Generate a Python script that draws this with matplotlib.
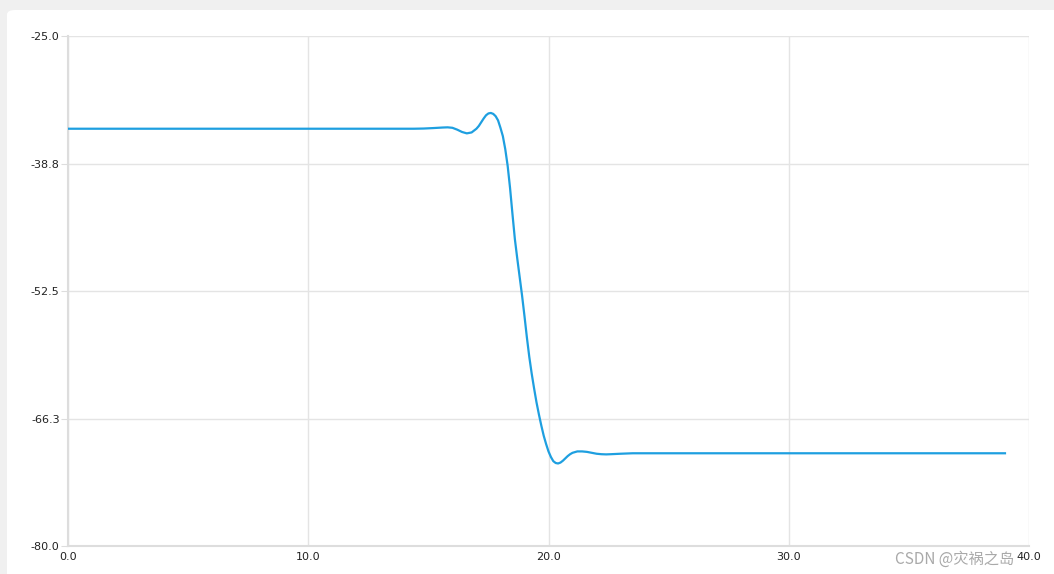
import matplotlib
matplotlib.use('Agg')
import matplotlib.pyplot as plt
from matplotlib.patches import FancyBboxPatch

plt.rcParams['axes.unicode_minus'] = False

# curve (x, dB-ish value)
x_vals = [0.0, 14.0, 14.4, 14.8, 15.2, 15.6, 15.8, 16.0, 16.2, 16.4, 16.6, 16.8,
          17.0, 17.1, 17.2, 17.3, 17.4, 17.5, 17.6, 17.7, 17.8, 17.9, 18.0, 18.1,
          18.2, 18.3, 18.4, 18.5, 18.6,
          18.7, 18.8, 18.9, 19.0, 19.1, 19.2, 19.3, 19.4, 19.5, 19.6, 19.7, 19.8,
          19.9, 20.0, 20.1, 20.2, 20.3, 20.4, 20.5, 20.6, 20.7, 20.8, 20.9, 21.0,
          21.2, 21.4, 21.6, 21.8, 22.0, 22.2, 22.4, 22.6, 23.0, 23.5, 24.0, 39.0]
y_vals = [-35.0, -35.0, -35.0, -34.98, -34.93, -34.87, -34.85, -34.9, -35.1, -35.35, -35.5, -35.4,
          -35.0, -34.7, -34.3, -33.9, -33.55, -33.35, -33.3, -33.4, -33.65, -34.1, -34.9, -35.8,
          -37.2, -39.0, -41.4, -44.2, -46.9,
          -49.0, -51.0, -53.0, -55.2, -57.5, -59.6, -61.4, -63.0, -64.5, -65.8, -67.0, -68.1,
          -69.0, -69.8, -70.4, -70.85, -71.05, -71.1, -71.0, -70.8, -70.55, -70.3, -70.1, -69.95,
          -69.8, -69.8, -69.85, -69.95, -70.05, -70.1, -70.12, -70.1, -70.05, -70.0, -70.0, -70.0]

x_ticks = [0.0, 10.0, 20.0, 30.0, 40.0]
y_ticks = [-80.0, -66.3, -52.5, -38.8, -25.0]

fig = plt.figure(figsize=(10.54, 5.74), dpi=100, facecolor='#f0f0f0')

# white rounded panel behind everything
panel = FancyBboxPatch((7 / 1054, -0.05), 1.2, 1 - 10 / 574 + 0.05,
                       boxstyle='round,pad=0,rounding_size=0.008',
                       transform=fig.transFigure, facecolor='white',
                       edgecolor='none', zorder=-10)
fig.patches.append(panel)

ax = fig.add_axes([68 / 1054, 1 - 546 / 574, (1029 - 68) / 1054, 510 / 574])
ax.set_facecolor('none')
ax.set_zorder(1)

ax.plot(x_vals, y_vals, color='#1e9fe0', linewidth=1.6, zorder=3,
        solid_joinstyle='round')

ax.set_xlim(0, 40)
ax.set_ylim(-80, -25)
ax.set_xticks(x_ticks)
ax.set_yticks(y_ticks)
ax.set_xticklabels(['%.1f' % v for v in x_ticks])
ax.set_yticklabels(['%.1f' % v for v in y_ticks])

ax.grid(True, color='#e4e4e4', linewidth=1.0)
ax.set_axisbelow(True)
for side in ['top', 'right']:
    ax.spines[side].set_visible(False)
ax.spines['left'].set_color('#dddddd')
ax.spines['left'].set_linewidth(1.5)
ax.spines['bottom'].set_color('#dddddd')
ax.spines['bottom'].set_linewidth(1.5)

ax.tick_params(axis='y', length=5, color='#dddddd', labelsize=8, pad=1, labelcolor='#222222')
ax.tick_params(axis='x', length=0, labelsize=8, pad=4, labelcolor='#222222')

fig.text(0.849, 0.018, 'CSDN @灾祸之岛', fontsize=11, color='#a0a0a0',
         family=['Noto Sans CJK SC', 'DejaVu Sans'], alpha=0.9, zorder=5)

fig.savefig('out.png', dpi=100, facecolor=fig.get_facecolor())
